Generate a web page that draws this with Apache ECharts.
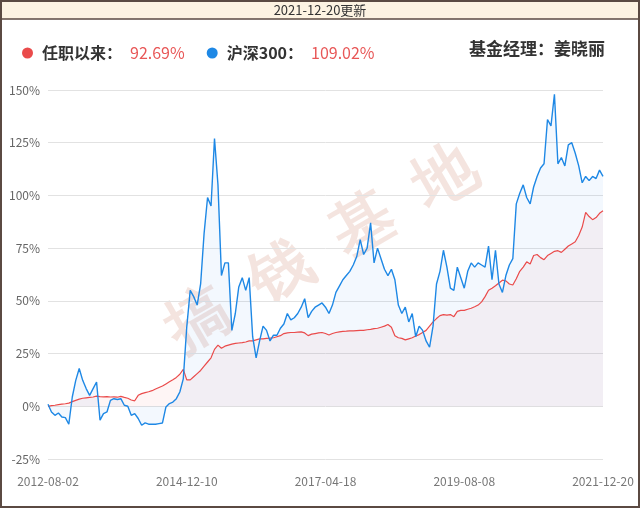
<!DOCTYPE html>
<html>
<head>
<meta charset="utf-8">
<style>
html, body { margin: 0; padding: 0; background: #fff; }
#chart { width: 640px; height: 508px; }
</style>
<script src="https://cdn.jsdelivr.net/npm/echarts@6/dist/echarts.min.js"></script>
</head>
<body>
<div id="chart"></div>
<script>
// header / legend text
var updateDate = '2021-12-20';
var managerName = '姜晓丽';
var seriesNames = ['任职以来', '沪深300'];

// x axis: sample index, labels only on the 5 shown dates
var tickDates = ['2012-08-02', '2014-12-10', '2017-04-18', '2019-08-08', '2021-12-20'];
var tickStep = 40;

// cumulative return (%)
var fundReturn = [
  0, 0.3, 0.5, 0.8, 1, 1.2, 1.5, 2.2, 2.8, 3.4,
  3.8, 4.0, 4.2, 4.4, 4.8, 4.6, 4.5, 4.6, 4.4, 4.5,
  4.3, 4.7, 4.2, 3.8, 3.0, 2.6, 5.2, 6.0, 6.5, 6.9,
  7.4, 8.2, 8.9, 9.6, 10.6, 11.6, 12.6, 13.7, 15.2, 17.5,
  12.5, 12.5, 14, 15.5, 17, 19, 21, 23, 27, 29,
  27.5, 28.5, 29, 29.5, 29.8, 30, 30.2, 30.5, 31, 31,
  31.5, 32, 32, 32.2, 32.3, 32.5, 33, 33.5, 34.5, 34.8,
  35, 35, 35.2, 35.3, 34.8, 33.5, 34.2, 34.5, 34.8, 35,
  34.5, 33.8, 34.5, 35, 35.3, 35.5, 35.6, 35.8, 35.8, 35.9,
  36, 36, 36.3, 36.5, 36.8, 37, 37.5, 38, 38.8, 37.5,
  33.5, 32.5, 32.2, 31.5, 32, 32.5, 33.3, 34, 35, 36,
  38, 40, 41.6, 43, 43.5, 43.2, 43.5, 42.5, 45, 45.5,
  45.5, 46, 46.5, 47.2, 48, 49.5, 52, 55, 56, 57.2,
  58.5, 59.8, 59.5, 58, 57.5, 60.5, 64, 66, 68.5, 67.5,
  71.5, 72, 70.5, 69.5, 71.5, 72.5, 73.5, 73.8, 73, 74.5,
  76, 77, 78, 81, 85, 92, 90, 88.5, 89.5, 91.5, 92.69
];
var indexReturn = [
  1, -2.7, -4.3, -3.2, -5.1, -5.4, -8.5, 4.4, 12.3, 17.9,
  12.3, 8.4, 5.2, 8.4, 11.5, -6.6, -3.5, -2.7, 2.8, 3.6,
  3.2, 3.6, 0.5, 0, -4.3, -3.5, -5.8, -9.0, -7.9, -8.5,
  -8.5, -8.5, -8.2, -7.9, -0.3, 1.3, 2.0, 3.6, 6.8, 13,
  37.6, 55, 52, 48, 58, 82, 99, 95, 127, 105,
  62, 68, 68, 36, 44, 56.6, 61, 55, 61, 33,
  23, 31, 38, 36, 31, 33.7, 33.7, 37, 39, 44,
  41, 42, 44, 47, 51, 42, 45, 47, 48, 49,
  47, 44, 48, 54, 57, 60, 62, 64, 67, 71,
  79, 72, 75, 87, 68, 75, 70, 65, 62, 65,
  60, 48, 44, 47, 40, 44, 33, 38, 36, 31,
  28, 38, 58, 64, 74, 66, 56, 55, 66, 61,
  56, 64, 68, 66, 68, 67, 66, 76, 60, 74,
  58, 54, 62, 67, 70, 96, 101, 105, 99, 96,
  104, 109, 113, 115, 136, 133, 148, 115, 118, 114,
  124, 125, 120, 114, 106, 109, 107, 109, 108, 112, 109.02
];

var lineColors = ['#ea4b4b', '#1e88e5'];
var lastValue = {};
lastValue[seriesNames[0]] = fundReturn[fundReturn.length - 1].toFixed(2) + '%';
lastValue[seriesNames[1]] = indexReturn[indexReturn.length - 1].toFixed(2) + '%';

var toPoints = function (arr) {
  return arr.map(function (v, i) { return [i, v]; });
};

var chart = echarts.init(document.getElementById('chart'));

var watermark = '搞钱基地'.split('').map(function (ch, k) {
  return {
    type: 'text',
    x: (k - 1.5) * 95,
    y: 0,
    style: {
      text: ch,
      fontSize: 62,
      fontWeight: 'bold',
      fill: 'rgba(214,150,130,0.26)',
      align: 'center',
      verticalAlign: 'middle'
    }
  };
});

chart.setOption({
  textStyle: {
    fontFamily: "'Noto Sans CJK SC', 'Noto Sans', sans-serif"
  },
  animation: false,
  grid: {
    left: 48,
    right: 37,
    top: 90,
    bottom: 49
  },
  legend: {
    left: 17,
    top: 40,
    icon: 'circle',
    itemWidth: 11,
    itemHeight: 11,
    itemGap: 22,
    data: seriesNames,
    formatter: function (name) {
      return '{n|' + name + '：}{v|' + lastValue[name] + '}';
    },
    textStyle: {
      rich: {
        n: {fontSize: 16, fontWeight: 'bold', color: '#333', padding: [0, 0, 0, 4]},
        v: {fontSize: 16, color: '#e85757', padding: [0, 0, 0, 8]}
      }
    }
  },
  xAxis: {
    type: 'value',
    min: 0,
    max: (tickDates.length - 1) * tickStep,
    interval: tickStep,
    axisLine: {show: false},
    axisTick: {show: false},
    splitLine: {show: false},
    axisLabel: {
      color: '#777',
      fontSize: 12,
      margin: 16,
      formatter: function (v) {
        return tickDates[v / tickStep];
      }
    }
  },
  yAxis: {
    type: 'value',
    min: -25,
    max: 150,
    interval: 25,
    axisLine: {show: false},
    axisTick: {show: false},
    axisLabel: {
      color: '#666',
      fontSize: 12,
      margin: 8,
      formatter: '{value}%'
    },
    splitLine: {
      lineStyle: {color: '#e2e2e2', width: 1}
    }
  },
  series: [
    {
      name: seriesNames[0],
      type: 'line',
      data: toPoints(fundReturn),
      showSymbol: false,
      itemStyle: {color: lineColors[0]},
      lineStyle: {color: lineColors[0], width: 1.2},
      areaStyle: {color: 'rgba(234,75,75,0.08)'}
    },
    {
      name: seriesNames[1],
      type: 'line',
      data: toPoints(indexReturn),
      showSymbol: false,
      itemStyle: {color: lineColors[1]},
      lineStyle: {color: lineColors[1], width: 1.4},
      areaStyle: {color: 'rgba(30,136,229,0.08)'}
    }
  ],
  graphic: [
    {
      type: 'rect',
      z: 0,
      shape: {x: 0, y: 0, width: 640, height: 19},
      style: {fill: '#fdf3e2'}
    },
    {
      type: 'line',
      z: 0,
      shape: {x1: 0, y1: 19, x2: 640, y2: 19},
      style: {stroke: '#5b4a42', lineWidth: 1.5}
    },
    {
      type: 'text',
      z: 1,
      x: 320,
      y: 10,
      style: {
        text: updateDate + '更新',
        fontSize: 13,
        fill: '#333',
        align: 'center',
        verticalAlign: 'middle',
        fontFamily: "'Noto Sans CJK SC', sans-serif"
      }
    },
    {
      type: 'text',
      z: 1,
      right: 35,
      top: 40,
      style: {
        text: '基金经理：' + managerName,
        fontSize: 17,
        fontWeight: 'bold',
        fill: '#333',
        fontFamily: "'Noto Sans CJK SC', sans-serif"
      }
    },
    {
      type: 'group',
      z: 0,
      x: 323,
      y: 250,
      rotation: Math.PI / 6,
      children: watermark
    },
    {
      type: 'rect',
      z: 10,
      shape: {x: 1, y: 1, width: 638, height: 506},
      style: {fill: null, stroke: '#5b4a42', lineWidth: 2}
    }
  ]
});
</script>
</body>
</html>
